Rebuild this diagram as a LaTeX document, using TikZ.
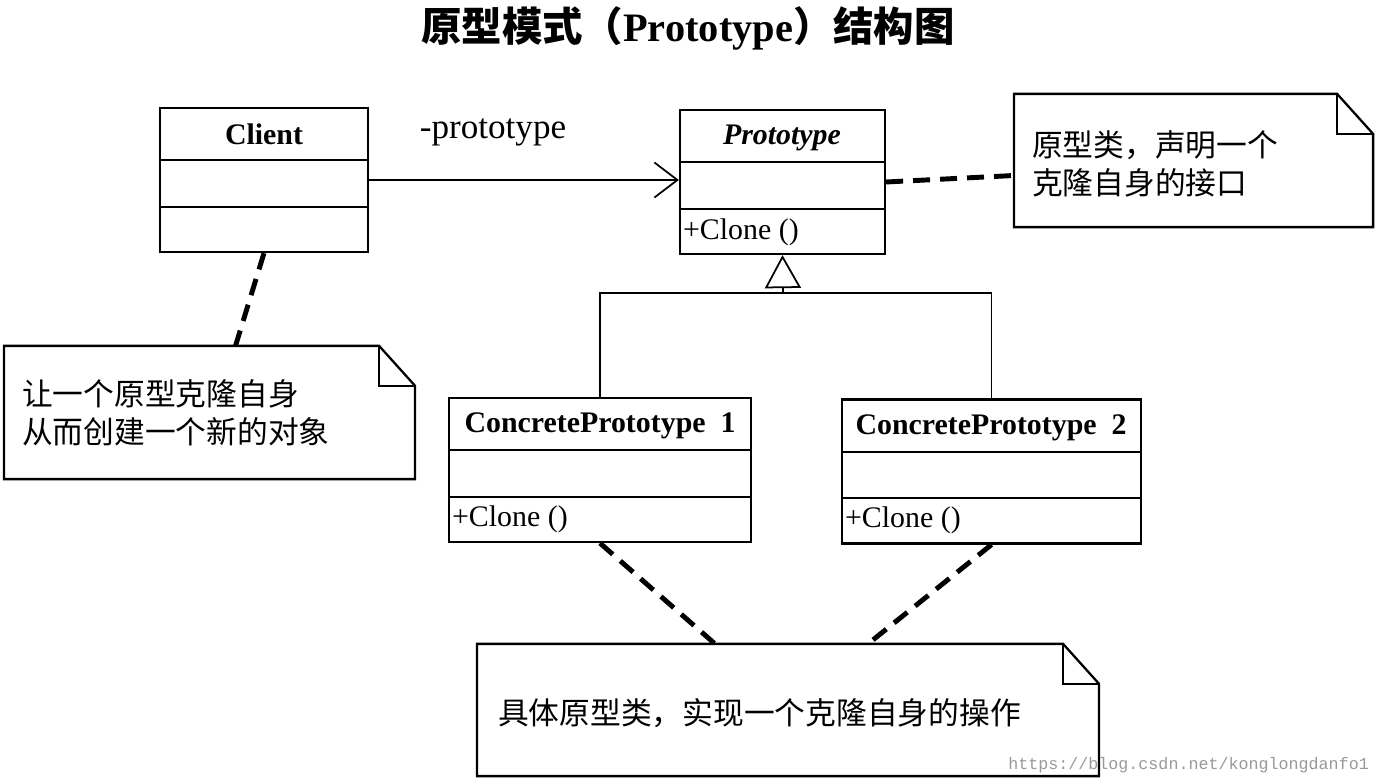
\documentclass[tikz,border=0pt]{standalone}
\usepackage{fontspec}
\setmainfont{Liberation Serif}
\newfontfamily\cjk{Noto Sans CJK SC}
\newfontfamily\urlfont{Liberation Mono}
\usetikzlibrary{arrows.meta,calc}

% note with a folded corner
\newcommand{\notefold}[1]{%
  \draw (#1.north west) -- ($(#1.north east)+(-36,0)$) -- ($(#1.north east)+(0,40)$)
    -- (#1.south east) -- (#1.south west) -- cycle;
  \draw ($(#1.north east)+(-36,0)$) -- ($(#1.north east)+(-36,40)$) -- ($(#1.north east)+(0,40)$);}

\begin{document}
\begin{tikzpicture}[x=0.02cm, y=-0.02cm, line width=1.3pt,
  every node/.style={font=\fontsize{17}{20}\selectfont, inner sep=0pt},
  classbox/.style={draw, minimum height=2.88cm},
  notebox/.style={minimum height=2.62cm},
  notetext/.style={font=\cjk\fontsize{17.5}{21.6}\selectfont, align=left, anchor=west},
  notelink/.style={line width=2.8pt, dash pattern=on 0.34cm off 0.2cm},
  assoc/.style={line width=1pt, -{Straight Barb[length=0.46cm, width=0.7cm]}},
  inherit/.style={line width=1pt}]

\useasboundingbox (0,0) rectangle (1377,784);

% Title
\node (title) at (688,28) {\fontsize{23}{26}\selectfont\bfseries{\cjk 原型模式（}Prototype{\cjk ）结构图}};

% Client
\node[classbox, minimum width=4.16cm] (client) at (264,180) {};
\draw (160,160) -- (368,160);
\draw (160,207) -- (368,207);
\node[font=\fontsize{17}{20}\selectfont\bfseries] (clientname) at (264,134) {Client};

% Prototype
\node[classbox, minimum width=4.1cm] (proto) at (782.5,182) {};
\draw (680,162) -- (885,162);
\draw (680,209) -- (885,209);
\node[font=\fontsize{17}{20}\selectfont\bfseries\itshape] (protoname) at (782,138) {Prototype};
\node[anchor=west] (protoclone) at (682,232) {+Clone ()};

% ConcretePrototype 1
\node[classbox, minimum width=6.04cm] (concrete1) at (600,470) {};
\draw (449,450) -- (751,450);
\draw (449,497) -- (751,497);
\node[font=\fontsize{17}{20}\selectfont\bfseries] (concrete1name) at (600,426) {ConcretePrototype\ \ 1};
\node[anchor=west] (concrete1clone) at (451,519) {+Clone ()};

% ConcretePrototype 2
\node[classbox, minimum width=5.98cm] (concrete2) at (991.5,471.5) {};
\draw (842,452) -- (1141,452);
\draw (842,498) -- (1141,498);
\node[font=\fontsize{17}{20}\selectfont\bfseries] (concrete2name) at (991,428) {ConcretePrototype\ \ 2};
\node[anchor=west] (concrete2clone) at (844,520) {+Clone ()};

% Association
\draw[assoc] (client.east) -- (client.east -| proto.west);
\node[font=\fontsize{20}{22}\selectfont] (assocname) at (493,132) {-prototype};

% Generalization
\coordinate (join) at (783,293);
\draw[inherit] (concrete1.north) |- (join) -| (concrete2.north);
\draw[inherit, -{Triangle[open, length=0.66cm, width=0.72cm]}] (join) -- (proto.south);

% Notes
\node[notebox, minimum width=7.14cm] (noteproto) at (1193.5,160.5) {};
\notefold{noteproto}
\node[notetext] (noteprototext) at (1031,164) {原型类，声明一个\\克隆自身的接口};

\node[notebox, minimum width=8.18cm] (noteclient) at (209.5,412.5) {};
\notefold{noteclient}
\node[notetext] (noteclienttext) at (21,413) {让一个原型克隆自身\\从而创建一个新的对象};

\node[notebox, minimum width=12.4cm, minimum height=2.6cm] (noteconcrete) at (788,710) {};
\notefold{noteconcrete}
\node[notetext] (noteconcretetext) at (497,713) {具体原型类，实现一个克隆自身的操作};

% Note links
\draw[notelink] (proto.east) -- ($(noteproto.west)+(0,15)$);
\draw[notelink] (client.south) -- ($(noteclient.north)+(26,0)$);
\draw[notelink] (concrete1.south) -- ($(noteconcrete.north)+(-73,0)$);
\draw[notelink] (concrete2.south) -- ($(noteconcrete.north)+(80,0)$);

% Watermark
\node[anchor=east, text=black!40, font=\urlfont\fontsize{9.5}{11}\selectfont] (mark) at (1370,765) {https://blog.csdn.net/konglongdanfo1};

\end{tikzpicture}
\end{document}
